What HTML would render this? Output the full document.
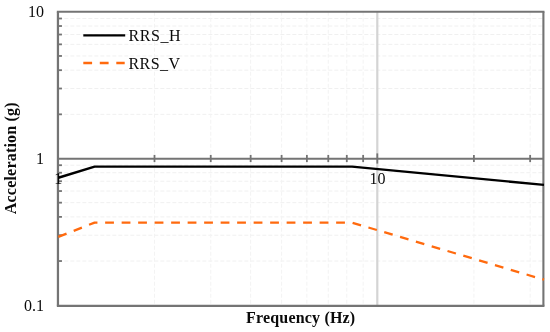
<!DOCTYPE html>
<html><head><meta charset="utf-8"><title>RRS chart</title>
<style>html,body{margin:0;padding:0;background:#fff}body{width:550px;height:332px;overflow:hidden}</style></head>
<body>
<svg width="550" height="332" viewBox="0 0 550 332" style="display:block">
<rect width="550" height="332" fill="#fff"/>
<g stroke="#f0f0f0" stroke-width="1" stroke-dasharray="4 2" fill="none"><line x1="58.35" x2="543.4" y1="261.04" y2="261.04"/><line x1="58.35" x2="543.4" y1="235.21" y2="235.21"/><line x1="58.35" x2="543.4" y1="216.88" y2="216.88"/><line x1="58.35" x2="543.4" y1="202.66" y2="202.66"/><line x1="58.35" x2="543.4" y1="191.05" y2="191.05"/><line x1="58.35" x2="543.4" y1="181.22" y2="181.22"/><line x1="58.35" x2="543.4" y1="172.72" y2="172.72"/><line x1="58.35" x2="543.4" y1="165.21" y2="165.21"/><line x1="58.35" x2="543.4" y1="114.34" y2="114.34"/><line x1="58.35" x2="543.4" y1="88.51" y2="88.51"/><line x1="58.35" x2="543.4" y1="70.18" y2="70.18"/><line x1="58.35" x2="543.4" y1="55.96" y2="55.96"/><line x1="58.35" x2="543.4" y1="44.35" y2="44.35"/><line x1="58.35" x2="543.4" y1="34.52" y2="34.52"/><line x1="58.35" x2="543.4" y1="26.02" y2="26.02"/><line x1="58.35" x2="543.4" y1="18.51" y2="18.51"/></g>
<g stroke="#f3f3f3" stroke-width="1" stroke-dasharray="4 2" fill="none"><line y1="11.73" y2="305.75" x1="154.50" x2="154.50"/><line y1="11.73" y2="305.75" x1="210.74" x2="210.74"/><line y1="11.73" y2="305.75" x1="250.65" x2="250.65"/><line y1="11.73" y2="305.75" x1="281.60" x2="281.60"/><line y1="11.73" y2="305.75" x1="306.89" x2="306.89"/><line y1="11.73" y2="305.75" x1="328.27" x2="328.27"/><line y1="11.73" y2="305.75" x1="346.80" x2="346.80"/><line y1="11.73" y2="305.75" x1="363.14" x2="363.14"/><line y1="11.73" y2="305.75" x1="473.90" x2="473.90"/><line y1="11.73" y2="305.75" x1="530.14" x2="530.14"/></g>
<line x1="377.3" x2="377.3" y1="11.73" y2="305.75" stroke="#d4d4d4" stroke-width="2.2"/>
<g stroke="#747474" stroke-width="1.8"><line x1="154.50" x2="154.50" y1="154.9" y2="162.1"/><line x1="210.74" x2="210.74" y1="154.9" y2="162.1"/><line x1="250.65" x2="250.65" y1="154.9" y2="162.1"/><line x1="281.60" x2="281.60" y1="154.9" y2="162.1"/><line x1="306.89" x2="306.89" y1="154.9" y2="162.1"/><line x1="328.27" x2="328.27" y1="154.9" y2="162.1"/><line x1="346.80" x2="346.80" y1="154.9" y2="162.1"/><line x1="363.14" x2="363.14" y1="154.9" y2="162.1"/><line x1="473.90" x2="473.90" y1="154.9" y2="162.1"/><line x1="530.14" x2="530.14" y1="154.9" y2="162.1"/><line x1="377.3" x2="377.3" y1="153.4" y2="163.6"/><line x1="58.35" x2="61.95" y1="261.04" y2="261.04"/><line x1="58.35" x2="61.95" y1="235.21" y2="235.21"/><line x1="58.35" x2="61.95" y1="216.88" y2="216.88"/><line x1="58.35" x2="61.95" y1="202.66" y2="202.66"/><line x1="58.35" x2="61.95" y1="191.05" y2="191.05"/><line x1="58.35" x2="61.95" y1="181.22" y2="181.22"/><line x1="58.35" x2="61.95" y1="172.72" y2="172.72"/><line x1="58.35" x2="61.95" y1="165.21" y2="165.21"/><line x1="58.35" x2="61.95" y1="114.34" y2="114.34"/><line x1="58.35" x2="61.95" y1="88.51" y2="88.51"/><line x1="58.35" x2="61.95" y1="70.18" y2="70.18"/><line x1="58.35" x2="61.95" y1="55.96" y2="55.96"/><line x1="58.35" x2="61.95" y1="44.35" y2="44.35"/><line x1="58.35" x2="61.95" y1="34.52" y2="34.52"/><line x1="58.35" x2="61.95" y1="26.02" y2="26.02"/><line x1="58.35" x2="61.95" y1="18.51" y2="18.51"/></g>
<line x1="56.85" x2="544.4499999999999" y1="11.73" y2="11.73" stroke="#747474" stroke-width="2"/>
<line x1="56.85" x2="544.4499999999999" y1="305.75" y2="305.75" stroke="#747474" stroke-width="2.25"/>
<line x1="543.4" x2="543.4" y1="11.73" y2="305.75" stroke="#747474" stroke-width="2.1"/>
<line x1="57.95" x2="57.95" y1="11.73" y2="305.75" stroke="#747474" stroke-width="2.25"/>
<line x1="58.35" x2="543.4" y1="158.73" y2="158.73" stroke="#747474" stroke-width="2.1"/>
<g font-family="'Liberation Serif', serif" font-size="16" fill="#0a0a0a">
<text x="44" y="17.3" text-anchor="end">10</text>
<text x="44" y="163.7" text-anchor="end">1</text>
<text x="44" y="310.8" text-anchor="end">0.1</text>
<text x="58.25" y="183.7" text-anchor="middle">1</text>
<text x="377.5" y="184" text-anchor="middle">10</text>
<text x="128.5" y="40.5" textLength="52" lengthAdjust="spacing">RRS_H</text>
<text x="128.5" y="68.5" textLength="51.5" lengthAdjust="spacing">RRS_V</text>
</g>
<g font-family="'Liberation Serif', serif" font-size="16" font-weight="bold" fill="#0a0a0a">
<text x="246.1" y="323" textLength="109" lengthAdjust="spacing">Frequency (Hz)</text>
<text transform="translate(16.2,214.2) rotate(-90)" textLength="111.8" lengthAdjust="spacing">Acceleration (g)</text>
</g>
<polyline points="58.35,177.75 94.6,166.6 352,166.6 544,184.9" fill="none" stroke="#000" stroke-width="2.4" stroke-linejoin="round"/>
<polyline points="58.35,236.9 94.6,222.6 352,222.6 544,279.7" fill="none" stroke="#ff6a0e" stroke-width="2.3" stroke-dasharray="8.8 7.7" stroke-linejoin="round"/>
<line x1="83.3" x2="125.2" y1="35.35" y2="35.35" stroke="#000" stroke-width="2.3"/>
<line x1="83.3" x2="124.7" y1="63" y2="63" stroke="#ff6a0e" stroke-width="2.3" stroke-dasharray="8.8 7.7"/>
</svg>
</body></html>
